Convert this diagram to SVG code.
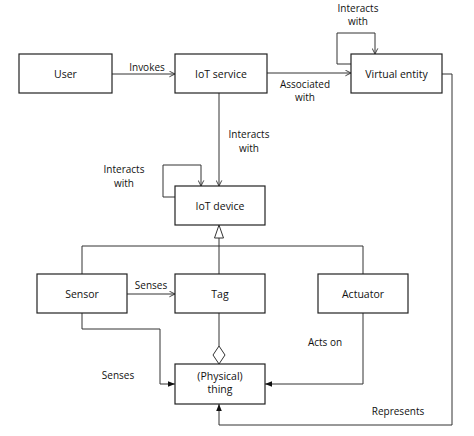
<svg xmlns="http://www.w3.org/2000/svg" width="474" height="436" viewBox="0 0 474 436">
<style>
.box{fill:#fff;stroke:#222;stroke-width:1.2}
.ln{fill:none;stroke:#333;stroke-width:1}
text{font-family:"Open Sans","Noto Sans",sans-serif;font-size:10.5px;fill:#111;text-anchor:middle}
.lbl{font-size:10px}
</style>
<defs>
<marker id="open" viewBox="0 0 10 10" refX="10" refY="5" markerWidth="7" markerHeight="7" orient="auto" markerUnits="userSpaceOnUse">
<path d="M2,1 L10,5 L2,9" fill="none" stroke="#333" stroke-width="1.3"/>
</marker>
<marker id="fill" viewBox="0 0 10 10" refX="10" refY="5" markerWidth="7" markerHeight="7" orient="auto" markerUnits="userSpaceOnUse">
<path d="M0,1 L10,5 L0,9 Z" fill="#111"/>
</marker>
</defs>
<rect width="474" height="436" fill="#fff"/>
<g id="connectors">
<line class="ln" x1="112" y1="74" x2="175" y2="74" marker-end="url(#open)"/>
<line class="ln" x1="267" y1="73" x2="351" y2="73" marker-end="url(#open)"/>
<path class="ln" d="M351,64 H337 V33 H375 V54" marker-end="url(#open)"/>
<path class="ln" d="M442,74 H452 V425 H219 V404" marker-end="url(#fill)"/>
<line class="ln" x1="219" y1="93" x2="219" y2="186" marker-end="url(#open)"/>
<path class="ln" d="M175,197 H163 V165 H201 V186" marker-end="url(#open)"/>
<path class="ln" d="M219,238 V274 M82,274 V246 H363 V274"/>
<path d="M219,225 L223.5,238 L214.5,238 Z" fill="#fff" stroke="#333" stroke-width="1"/>
<line class="ln" x1="127" y1="294" x2="175" y2="294" marker-end="url(#open)"/>
<line class="ln" x1="219" y1="313" x2="219" y2="346"/>
<path d="M219,346 L225,355 L219,364 L213,355 Z" fill="#fff" stroke="#333" stroke-width="1"/>
<path class="ln" d="M82,313 V329 H160 V384 H175" marker-end="url(#fill)"/>
<path class="ln" d="M363,313 V384 H265" marker-end="url(#fill)"/>
</g>
<g id="labels">
<text class="lbl" x="147" y="71">Invokes</text>
<text class="lbl" x="305" y="88">Associated</text>
<text class="lbl" x="305" y="101">with</text>
<text class="lbl" x="358" y="12">Interacts</text>
<text class="lbl" x="358" y="25">with</text>
<text class="lbl" x="249" y="138">Interacts</text>
<text class="lbl" x="249" y="152">with</text>
<text class="lbl" x="124" y="173">Interacts</text>
<text class="lbl" x="124" y="187">with</text>
<text class="lbl" x="151" y="289">Senses</text>
<text class="lbl" x="325" y="346">Acts on</text>
<text class="lbl" x="118" y="379">Senses</text>
<text class="lbl" x="398" y="415">Represents</text>
</g>
<g id="user"><rect class="box" x="19" y="54" width="93" height="39"/><text x="65.5" y="78">User</text></g>
<g id="iot-service"><rect class="box" x="175" y="54" width="92" height="39"/><text x="221" y="78">IoT service</text></g>
<g id="virtual-entity"><rect class="box" x="351" y="54" width="91" height="39"/><text x="396.5" y="78">Virtual entity</text></g>
<g id="iot-device"><rect class="box" x="175" y="186" width="90" height="39"/><text x="220" y="210">IoT device</text></g>
<g id="sensor"><rect class="box" x="37" y="274" width="90" height="39"/><text x="82" y="298">Sensor</text></g>
<g id="tag"><rect class="box" x="175" y="274" width="90" height="39"/><text x="220" y="298">Tag</text></g>
<g id="actuator"><rect class="box" x="318" y="274" width="90" height="39"/><text x="363" y="298">Actuator</text></g>
<g id="thing"><rect class="box" x="175" y="364" width="90" height="40"/><text x="220" y="380">(Physical)</text><text x="220" y="393">thing</text></g>
</svg>
